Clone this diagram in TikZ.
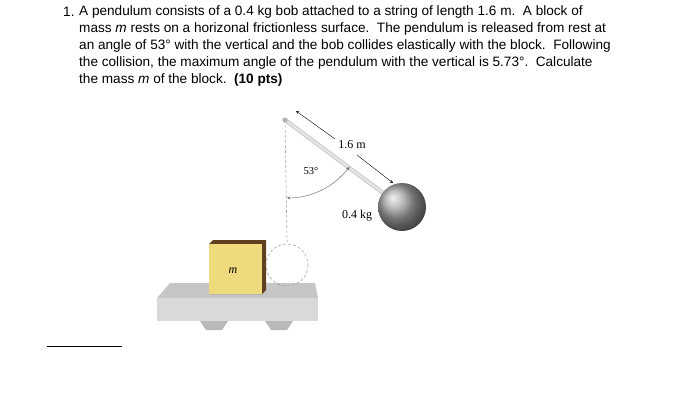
\documentclass[tikz,border=0pt]{standalone}
\usepackage{fontspec}
\setmainfont{Liberation Sans}
\newfontfamily\serifb{Liberation Serif}
\begin{document}
\begin{tikzpicture}[x=1pt,y=-1pt,
  txt/.style={anchor=west,inner sep=0pt,font=\fontsize{13.6}{15}\selectfont},
  lbl/.style={inner sep=0pt,font=\serifb\fontsize{12}{14}\selectfont},
  dsh/.style={densely dashed,gray!70,line width=0.6pt}]
\useasboundingbox (0,0) rectangle (700,409);
\fill[white] (0,0) rectangle (700,409);
\node[txt] (n1) at (63,12) {1.};
\node[txt] (l1) at (79,12) {A pendulum consists of a 0.4 kg bob attached to a string of length 1.6 m.\ \ A block of};
\node[txt] (l2) at (79,29) {mass \textit{m} rests on a horizonal frictionless surface.\ \ The pendulum is released from rest at};
\node[txt] (l3) at (79,46) {an angle of 53\textdegree\ with the vertical and the bob collides elastically with the block.\ \ Following};
\node[txt] (l4) at (79,63) {the collision, the maximum angle of the pendulum with the vertical is 5.73\textdegree.\ \ Calculate};
\node[txt] (l5) at (79,80) {the mass \textit{m} of the block.\ \ \textbf{(10 pts)}};
% slab
\fill[gray!45] (170,283) -- (315,283) -- (318,298) -- (157,298) -- cycle;
\fill[gray!30] (157,298) rectangle (318,321);
\fill[gray!55] (200,321) -- (228,321) -- (222,330) -- (206,330) -- cycle;
\fill[gray!55] (265,321) -- (293,321) -- (287,330) -- (271,330) -- cycle;
% block
\fill[brown!50!black] (209,244) -- (213,240) -- (266,240) -- (266,290) -- (262,294) -- (209,294) -- cycle;
\fill[yellow!55!brown!60] (209,244) rectangle (262,294);
\node[font=\serifb\itshape\fontsize{12}{14}\selectfont] (m) at (233,271) {m};
% dashed
\coordinate (piv) at (285,120);
\draw[dsh] (piv) -- (287,242);
\draw[dsh] (287,265) circle (21);
% string
\draw[gray!50,line width=4pt] (piv) -- (402,207);
\draw[gray!20,line width=2.5pt] (piv) -- (402,207);
\node[circle,minimum size=48pt,inner sep=0pt,ball color=gray!70] (ball) at (402,207) {};
\fill[gray!60] (piv) circle (2.5);
% dimension
\coordinate (d1) at (296,111);
\coordinate (d2) at (393,183);
\draw[-stealth] (335,139) -- (d1);
\draw[-stealth] (357,155) -- (d2);
\node[lbl] (len) at (352,145) {1.6 m};
% angle
\draw[stealth-stealth,gray!70!black] (287,198) arc[start angle=90,end angle=37,radius=78];
\node[lbl,font=\serifb\fontsize{10.5}{12}\selectfont] (ang) at (311,171) {53\textdegree};
\node[lbl] (kg) at (357,216) {0.4 kg};
\draw[line width=0.8pt] (47,346) -- (122,346);
\end{tikzpicture}
\end{document}
